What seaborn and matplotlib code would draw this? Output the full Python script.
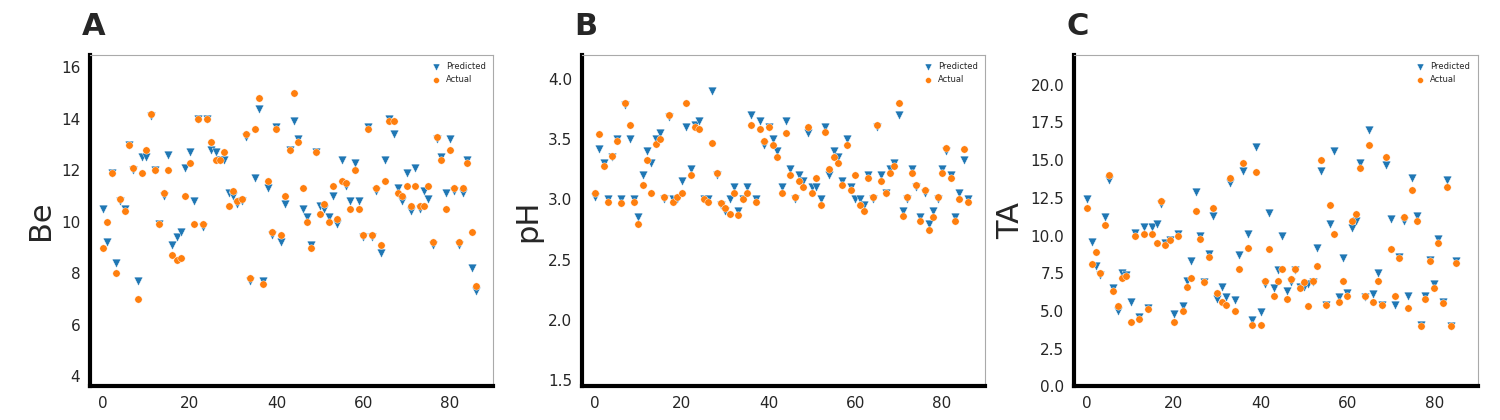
import numpy as np
import pandas as pd
import matplotlib
matplotlib.use("Agg")
import matplotlib.pyplot as plt
import seaborn as sns

be_pred = [10.5,9.2,11.9,8.4,10.8,10.5,13.0,12.0,7.7,12.5,
           12.5,14.1,12.0,9.9,11.0,12.6,9.1,9.4,9.6,12.1,
           12.7,10.8,14.0,9.8,14.0,12.8,12.7,12.4,12.4,11.1,
           11.0,10.7,10.8,13.3,7.7,11.7,14.4,7.7,11.3,9.5,
           13.7,9.2,10.7,12.8,13.9,13.2,10.5,10.2,9.1,12.7,
           10.6,10.5,10.2,11.0,9.9,12.4,11.4,10.8,12.3,10.8,
           9.4,13.7,9.4,11.2,8.8,12.4,14.0,13.4,11.3,10.8,
           11.9,10.4,12.1,10.5,11.2,10.9,9.1,13.2,12.5,11.1,
           13.2,11.2,9.1,11.1,12.4,8.2,7.3]
be_act = [9.0,10.0,11.9,8.0,10.9,10.4,13.0,12.1,7.0,11.9,
          12.8,14.2,12.0,9.9,11.1,12.0,8.7,8.5,8.6,11.0,
          12.3,9.9,14.0,9.9,14.0,13.1,12.4,12.4,12.7,10.6,
          11.2,10.8,10.9,13.4,7.8,13.6,14.8,7.6,11.6,9.6,
          13.6,9.5,11.0,12.8,15.0,13.1,11.3,10.0,9.0,12.7,
          10.3,10.7,10.0,11.4,10.1,11.6,11.5,10.5,12.0,10.5,
          9.5,13.6,9.5,11.3,9.1,11.6,13.9,13.9,11.1,11.0,
          11.4,10.6,11.4,10.6,10.6,11.4,9.2,13.3,12.4,10.5,
          12.8,11.3,9.2,11.3,12.3,9.6,7.5]
ph_pred = [3.02,3.42,3.30,3.00,3.35,3.50,3.00,3.78,3.50,3.00,
           2.85,3.20,3.40,3.30,3.50,3.55,3.00,3.68,3.00,3.00,
           3.15,3.60,3.25,3.62,3.65,3.00,3.00,3.90,3.20,2.95,
           2.90,3.00,3.10,2.90,3.00,3.10,3.70,3.00,3.65,3.45,
           3.60,3.50,3.40,3.10,3.65,3.25,3.00,3.20,3.15,3.55,
           3.10,3.10,3.00,3.60,3.20,3.40,3.35,3.15,3.50,3.10,
           3.00,3.00,2.95,3.20,3.00,3.60,3.20,3.05,3.25,3.30,
           3.70,2.90,3.00,3.25,3.10,2.85,3.05,2.80,2.90,3.00,
           3.25,3.40,3.20,2.85,3.05,3.33,3.00]
ph_act = [3.05,3.54,3.28,2.98,3.36,3.48,2.97,3.80,3.62,2.98,
          2.80,3.12,3.33,3.05,3.46,3.50,3.02,3.70,2.98,3.02,
          3.05,3.80,3.20,3.60,3.58,3.00,2.98,3.47,3.22,2.97,
          2.93,2.88,3.05,2.87,3.00,3.05,3.62,2.98,3.58,3.48,
          3.60,3.45,3.35,3.05,3.55,3.20,3.02,3.15,3.10,3.60,
          3.05,3.18,2.95,3.56,3.25,3.35,3.30,3.12,3.45,3.08,
          3.20,2.95,2.90,3.18,3.02,3.62,3.15,3.05,3.22,3.28,
          3.80,2.86,3.02,3.22,3.12,2.82,3.08,2.75,2.85,3.02,
          3.22,3.43,3.18,2.82,3.00,3.42,2.98]
ta_pred = [12.4,9.6,8.0,7.4,11.2,13.7,6.5,5.0,7.5,7.4,
           5.6,10.2,4.6,10.6,5.2,10.6,10.8,12.1,9.5,9.7,
           4.8,10.1,5.3,7.0,8.3,12.9,10.0,6.9,8.8,11.3,
           5.8,6.6,5.9,13.5,5.7,8.7,14.3,10.1,4.4,15.9,
           4.9,6.8,11.5,6.5,7.7,10.0,6.3,6.9,7.7,6.6,
           6.6,6.8,6.9,9.2,14.3,5.4,10.8,15.6,5.9,8.5,
           6.2,10.5,11.0,14.8,5.9,17.0,6.1,7.5,5.4,14.7,
           11.1,5.4,8.6,11.0,6.0,13.8,11.3,4.1,6.0,8.4,
           6.8,9.8,5.6,13.7,4.0,8.3]
ta_act = [11.8,8.1,8.9,7.5,10.7,14.0,6.3,5.3,7.2,7.3,
          4.3,10.0,4.5,10.1,5.1,10.1,9.5,12.3,9.4,9.7,
          4.3,10.0,5.0,6.6,7.2,11.6,9.8,6.9,8.6,11.8,
          6.2,5.6,5.4,13.8,5.0,7.8,14.8,9.2,4.1,14.2,
          4.1,7.0,9.1,6.0,7.0,7.8,5.8,7.1,7.8,6.5,
          6.9,5.3,7.0,8.0,15.0,5.4,12.0,10.1,5.6,7.0,
          6.0,11.0,11.4,14.5,6.0,16.0,5.6,7.0,5.4,15.2,
          9.1,6.0,8.5,11.2,5.2,13.0,11.0,4.0,5.8,8.3,
          6.5,9.5,5.5,13.2,4.0,8.2]

panels = [("A", "Be", be_pred, be_act, (3.6, 16.5), np.arange(4, 17, 2), "{:.0f}"),
          ("B", "pH", ph_pred, ph_act, (1.45, 4.2), np.arange(1.5, 4.01, 0.5), "{:.1f}"),
          ("C", "TA", ta_pred, ta_act, (0, 22), np.arange(0, 20.01, 2.5), "{:.1f}")]

sns.set_style("white")
fig, axes = plt.subplots(1, 3, figsize=(15, 4.2), dpi=100)
plt.subplots_adjust(left=0.06, right=0.985, top=0.87, bottom=0.08, wspace=0.22)

for ax, (letter, ylab, pred, act, ylim, yt, fmt) in zip(axes, panels):
    df = pd.DataFrame({"x": np.arange(len(pred)), "Predicted": pred, "Actual": act})
    sns.scatterplot(data=df, x="x", y="Predicted", ax=ax, marker="v", color="#1f77b4",
                    s=40, edgecolor="white", linewidth=0.3, label="Predicted")
    sns.scatterplot(data=df, x="x", y="Actual", ax=ax, marker="o", color="#ff7f0e",
                    s=28, edgecolor="white", linewidth=0.3, label="Actual")
    ax.set_ylim(*ylim)
    ax.set_xlim(-3, 90)
    ax.set_yticks(yt)
    ax.set_yticklabels([fmt.format(v) for v in yt], fontsize=11)
    ax.set_xticks([0, 20, 40, 60, 80])
    ax.tick_params(axis="x", labelsize=11)
    ax.set_xlabel("")
    ax.set_ylabel(ylab, fontsize=22)
    for s in ["left", "bottom"]:
        ax.spines[s].set_linewidth(3)
        ax.spines[s].set_color("black")
    for s in ["top", "right"]:
        ax.spines[s].set_linewidth(0.8)
        ax.spines[s].set_color("#aaaaaa")
    ax.legend(loc="upper right", fontsize=6, frameon=False, handletextpad=0.2, markerscale=0.8)
    ax.text(-0.02, 1.04, letter, transform=ax.transAxes, fontsize=22, fontweight="bold",
            ha="left", va="bottom")

fig.savefig("out.png", dpi=100)
